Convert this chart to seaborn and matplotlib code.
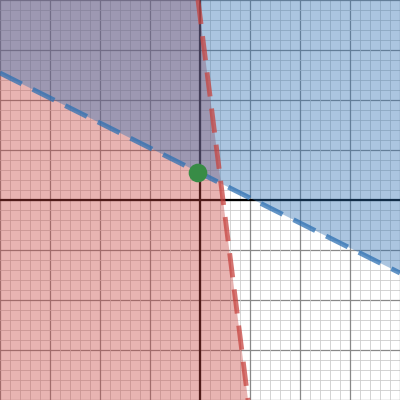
import numpy as np
import pandas as pd
import seaborn as sns
import matplotlib
matplotlib.use("Agg")
import matplotlib.pyplot as plt

# Boundary lines (in graph units)
blue_x = [-4.0, 4.0]
blue_y = [2.54, -1.46]      # y = -0.5x + 0.54, shaded above
red_y = [4.0, -4.0]
red_x = [-0.04, 0.96]       # steep line, shaded to the left
point_x = [-0.04]
point_y = [0.54]

sns.set_theme(style="white")
fig = plt.figure(figsize=(4, 4), dpi=100)
ax = fig.add_axes([0, 0, 1, 1])
ax.set_xlim(-4, 4)
ax.set_ylim(-4, 4)

# grid
for v in np.arange(-4, 4.01, 0.2):
    major = abs(v - round(v)) < 1e-6
    c = "#888888" if major else "#cccccc"
    lw = 0.9 if major else 0.6
    ax.axvline(v, color=c, lw=lw, zorder=0)
    ax.axhline(v, color=c, lw=lw, zorder=0)
ax.axvline(0, color="black", lw=1.6, zorder=1)
ax.axhline(0, color="black", lw=1.6, zorder=1)

ry = np.array(red_y); rx = np.array(red_x)
ax.fill_betweenx(ry, -4, rx, color="#c74440", alpha=0.4, lw=0, zorder=2)
bx = np.array(blue_x); by = np.array(blue_y)
ax.fill_between(bx, by, 4, color="#2d70b3", alpha=0.4, lw=0, zorder=2.1)

df_b = pd.DataFrame({"x": blue_x, "y": blue_y})
df_r = pd.DataFrame({"x": red_x, "y": red_y})
sns.lineplot(data=df_r, x="x", y="y", ax=ax, color="#c74440", lw=3.5,
             linestyle=(0, (5, 2.5)), alpha=0.75, sort=False, zorder=3)
sns.lineplot(data=df_b, x="x", y="y", ax=ax, color="#2d70b3", lw=3.5,
             linestyle=(0, (5, 2.5)), alpha=0.75, sort=False, zorder=3)
sns.scatterplot(x=point_x, y=point_y, ax=ax, color="#388c46", s=180,
                edgecolor="none", zorder=4)

ax.set_xticks([]); ax.set_yticks([])
ax.set_xlabel(""); ax.set_ylabel("")
for s in ax.spines.values():
    s.set_visible(False)
fig.savefig("out.png", dpi=100)
